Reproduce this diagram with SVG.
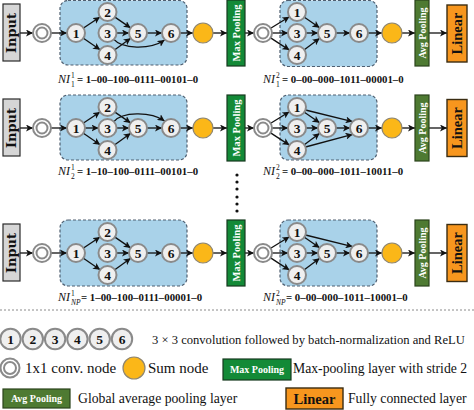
<svg xmlns="http://www.w3.org/2000/svg" width="474" height="410" viewBox="0 0 474 410">
<defs>
<marker id="ah" markerUnits="userSpaceOnUse" markerWidth="8" markerHeight="7" refX="7" refY="3.5" orient="auto">
<path d="M0,0 L7,3.5 L0,7 L1.8,3.5 z" fill="#111"/>
</marker>
</defs>
<style>
.blk{fill:#a9d2e9;stroke:#4f5f70;stroke-width:1.2;stroke-dasharray:3 2}
.inp{fill:#d6d6d6;stroke:#2a2a2a;stroke-width:1.2}
.mp{fill:#138a37;stroke:#173a1f;stroke-width:1.2}
.ap{fill:#4e7a32;stroke:#2b431c;stroke-width:1.2}
.ln{fill:#f7961e;stroke:#3a2c12;stroke-width:1.4}
.nd{fill:#efefef;stroke:#8a8a8a;stroke-width:2}
.cv{fill:#fff;stroke:#8a8a8a;stroke-width:2}
.sm{fill:#fbb718;stroke:#8f8670;stroke-width:1.2}
.num{font-family:"Liberation Serif",serif;font-weight:bold;font-size:13.5px;text-anchor:middle;fill:#111}
.tin{font-family:"DejaVu Serif",serif;font-weight:bold;font-size:13px;text-anchor:middle;fill:#111}
.tmp{font-family:"Liberation Serif",serif;font-weight:bold;font-size:10.5px;text-anchor:middle;fill:#fff}
.tap{font-family:"Liberation Serif",serif;font-weight:bold;font-size:10px;text-anchor:middle;fill:#fff}
.tln{font-family:"Liberation Serif",serif;font-weight:bold;font-size:14.5px;text-anchor:middle;fill:#111}
.ni{font-family:"Liberation Serif",serif;font-style:italic;font-size:12px;fill:#111}
.sx{font-family:"Liberation Serif",serif;font-size:7.5px;fill:#111}
.sxi{font-family:"Liberation Serif",serif;font-style:italic;font-size:7.5px;fill:#111}
.code{font-family:"Liberation Serif",serif;font-weight:bold;font-size:10.8px;fill:#111}
.lg{font-family:"Liberation Serif",serif;fill:#111}
.e{fill:none;stroke:#111;stroke-width:1.3;marker-end:url(#ah)}
</style>

<!-- blocks (cells) -->
<g id="cell-r1-left"><rect class="blk" x="60" y="0.5" width="127" height="64.5" rx="8"/></g>
<g id="cell-r1-right"><rect class="blk" x="280" y="0.5" width="97" height="66" rx="8"/></g>
<g id="cell-r2-left"><rect class="blk" x="60" y="95" width="127" height="65" rx="8"/></g>
<g id="cell-r2-right"><rect class="blk" x="280" y="95" width="97" height="65" rx="8"/></g>
<g id="cell-r3-left"><rect class="blk" x="60" y="220" width="127" height="66" rx="8"/></g>
<g id="cell-r3-right"><rect class="blk" x="280" y="220" width="97" height="66" rx="8"/></g>

<g id="connectors">
<!-- row 1 -->
<path class="e" d="M20,33 L33,33"/>
<path class="e" d="M51,33 L67,33"/>
<path class="e" d="M83.5,28 L100,17"/>
<path class="e" d="M83.4,38.2 L100.1,49.8"/>
<path class="e" d="M114.9,17.1 L130.6,27.9"/>
<path class="e" d="M116.5,33 L129,33"/>
<path class="e" d="M114.8,49.7 L130.7,38.3"/>
<path class="e" d="M147,33 L162,33"/>
<path class="e" d="M113.9,39.4 C122,49 150,50 164.6,40"/>
<path class="e" d="M180,33 L193,33"/>
<path class="e" d="M213,33 L227,33"/>
<path class="e" d="M245,33 L254,33"/>
<path class="e" d="M270.7,28.3 L289.4,16.7"/>
<path class="e" d="M272,33 L288,33"/>
<path class="e" d="M270.6,37.9 L289.4,50.1"/>
<path class="e" d="M304.4,17.2 L319.6,27.8"/>
<path class="e" d="M306,33 L318,33"/>
<path class="e" d="M304.3,49.7 L319.7,38.3"/>
<path class="e" d="M336,33 L350,33"/>
<path class="e" d="M368,33 L382,33"/>
<path class="e" d="M402,33 L415,33"/>
<path class="e" d="M429,33 L447,33"/>
<!-- row 2 -->
<path class="e" d="M20,128 L33,128"/>
<path class="e" d="M51,128 L67,128"/>
<path class="e" d="M83.5,123 L100,112"/>
<path class="e" d="M85,128 L98.5,128"/>
<path class="e" d="M83.4,133.2 L100.1,144.8"/>
<path class="e" d="M114.9,112.1 L130.6,122.9"/>
<path class="e" d="M116.5,128 L129,128"/>
<path class="e" d="M114.8,144.7 L130.7,133.3"/>
<path class="e" d="M147,128 L162,128"/>
<path class="e" d="M113.9,121.6 C122,112 150,111 164.6,121"/>
<path class="e" d="M180,128 L193,128"/>
<path class="e" d="M213,128 L227,128"/>
<path class="e" d="M245,128 L254,128"/>
<path class="e" d="M270.7,123.3 L289.4,111.7"/>
<path class="e" d="M272,128 L288,128"/>
<path class="e" d="M270.6,132.9 L289.4,145.1"/>
<path class="e" d="M304.4,112.2 L319.6,122.8"/>
<path class="e" d="M306,128 L318,128"/>
<path class="e" d="M304.3,144.7 L319.7,133.3"/>
<path class="e" d="M305.5,110 L352.6,121.6"/>
<path class="e" d="M305.5,147 L352.6,134.4"/>
<path class="e" d="M336,128 L350,128"/>
<path class="e" d="M368,128 L382,128"/>
<path class="e" d="M402,128 L415,128"/>
<path class="e" d="M429,128 L447,128"/>
<!-- row 3 -->
<path class="e" d="M20,253 L33,253"/>
<path class="e" d="M51,253 L67,253"/>
<path class="e" d="M83.5,248 L100,237"/>
<path class="e" d="M83.4,258.2 L100.1,269.8"/>
<path class="e" d="M114.9,237.1 L130.6,247.9"/>
<path class="e" d="M116.5,253 L129,253"/>
<path class="e" d="M114.8,269.7 L130.7,258.3"/>
<path class="e" d="M147,253 L162,253"/>
<path class="e" d="M180,253 L193,253"/>
<path class="e" d="M213,253 L227,253"/>
<path class="e" d="M245,253 L254,253"/>
<path class="e" d="M270.7,248.3 L289.4,236.7"/>
<path class="e" d="M272,253 L288,253"/>
<path class="e" d="M270.6,257.9 L289.4,270.1"/>
<path class="e" d="M304.4,237.2 L319.6,247.8"/>
<path class="e" d="M306,253 L318,253"/>
<path class="e" d="M304.3,269.7 L319.7,258.3"/>
<path class="e" d="M305.5,235 L352.6,246.6"/>
<path class="e" d="M336,253 L350,253"/>
<path class="e" d="M368,253 L382,253"/>
<path class="e" d="M402,253 L415,253"/>
<path class="e" d="M429,253 L447,253"/>
</g>

<!-- ROW 1 nodes -->
<g id="r1-input"><rect class="inp" x="3" y="4" width="17" height="57"/><text class="tin" transform="translate(11.5,33) rotate(-90)" y="4.5">Input</text></g>
<g id="r1-c1x1a"><circle class="cv" cx="42" cy="33" r="9"/><circle class="cv" cx="42" cy="33" r="5.5"/></g>
<g id="r1-a1"><circle class="nd" cx="76" cy="33" r="9"/><text class="num" x="76" y="37.6">1</text></g>
<g id="r1-a2"><circle class="nd" cx="107.5" cy="12" r="9"/><text class="num" x="107.5" y="16.6">2</text></g>
<g id="r1-a3"><circle class="nd" cx="107.5" cy="33" r="9"/><text class="num" x="107.5" y="37.6">3</text></g>
<g id="r1-a4"><circle class="nd" cx="107.5" cy="55" r="9"/><text class="num" x="107.5" y="59.6">4</text></g>
<g id="r1-a5"><circle class="nd" cx="138" cy="33" r="9"/><text class="num" x="138" y="37.6">5</text></g>
<g id="r1-a6"><circle class="nd" cx="171" cy="33" r="9"/><text class="num" x="171" y="37.6">6</text></g>
<g id="r1-suma"><circle class="sm" cx="203" cy="33" r="10"/></g>
<g id="r1-maxpool"><rect class="mp" x="227" y="0" width="18" height="66"/><text class="tmp" transform="translate(236,33) rotate(-90)" y="3.6">Max Pooling</text></g>
<g id="r1-c1x1b"><circle class="cv" cx="263" cy="33" r="9"/><circle class="cv" cx="263" cy="33" r="5.5"/></g>
<g id="r1-b1"><circle class="nd" cx="297" cy="12" r="9"/><text class="num" x="297" y="16.6">1</text></g>
<g id="r1-b3"><circle class="nd" cx="297" cy="33" r="9"/><text class="num" x="297" y="37.6">3</text></g>
<g id="r1-b4"><circle class="nd" cx="297" cy="55" r="9"/><text class="num" x="297" y="59.6">4</text></g>
<g id="r1-b5"><circle class="nd" cx="327" cy="33" r="9"/><text class="num" x="327" y="37.6">5</text></g>
<g id="r1-b6"><circle class="nd" cx="359" cy="33" r="9"/><text class="num" x="359" y="37.6">6</text></g>
<g id="r1-sumb"><circle class="sm" cx="392" cy="33" r="10"/></g>
<g id="r1-avgpool"><rect class="ap" x="415" y="0" width="14" height="66"/><text class="tap" transform="translate(422,33) rotate(-90)" y="3.5">Avg Pooling</text></g>
<g id="r1-linear"><rect class="ln" x="447" y="5" width="20" height="57"/><text class="tln" transform="translate(457,33.5) rotate(-90)" y="5">Linear</text></g>
<g id="r1-label-left"><text class="ni" x="58" y="83">NI</text><text class="sx" x="71" y="78">1</text><text class="sx" x="71" y="86.5">1</text><text class="code" x="77" y="83">= 1–00–100–0111–00101–0</text></g>
<g id="r1-label-right"><text class="ni" x="263" y="83">NI</text><text class="sx" x="276" y="78">2</text><text class="sx" x="276" y="86.5">1</text><text class="code" x="282" y="83">= 0–00–000–1011–00001–0</text></g>

<!-- ROW 2 nodes -->
<g id="r2-input"><rect class="inp" x="3" y="99" width="17" height="57"/><text class="tin" transform="translate(11.5,128) rotate(-90)" y="4.5">Input</text></g>
<g id="r2-c1x1a"><circle class="cv" cx="42" cy="128" r="9"/><circle class="cv" cx="42" cy="128" r="5.5"/></g>
<g id="r2-a1"><circle class="nd" cx="76" cy="128" r="9"/><text class="num" x="76" y="132.6">1</text></g>
<g id="r2-a2"><circle class="nd" cx="107.5" cy="107" r="9"/><text class="num" x="107.5" y="111.6">2</text></g>
<g id="r2-a3"><circle class="nd" cx="107.5" cy="128" r="9"/><text class="num" x="107.5" y="132.6">3</text></g>
<g id="r2-a4"><circle class="nd" cx="107.5" cy="150" r="9"/><text class="num" x="107.5" y="154.6">4</text></g>
<g id="r2-a5"><circle class="nd" cx="138" cy="128" r="9"/><text class="num" x="138" y="132.6">5</text></g>
<g id="r2-a6"><circle class="nd" cx="171" cy="128" r="9"/><text class="num" x="171" y="132.6">6</text></g>
<g id="r2-suma"><circle class="sm" cx="203" cy="128" r="10"/></g>
<g id="r2-maxpool"><rect class="mp" x="227" y="95" width="18" height="66"/><text class="tmp" transform="translate(236,128) rotate(-90)" y="3.6">Max Pooling</text></g>
<g id="r2-c1x1b"><circle class="cv" cx="263" cy="128" r="9"/><circle class="cv" cx="263" cy="128" r="5.5"/></g>
<g id="r2-b1"><circle class="nd" cx="297" cy="107" r="9"/><text class="num" x="297" y="111.6">1</text></g>
<g id="r2-b3"><circle class="nd" cx="297" cy="128" r="9"/><text class="num" x="297" y="132.6">3</text></g>
<g id="r2-b4"><circle class="nd" cx="297" cy="150" r="9"/><text class="num" x="297" y="154.6">4</text></g>
<g id="r2-b5"><circle class="nd" cx="327" cy="128" r="9"/><text class="num" x="327" y="132.6">5</text></g>
<g id="r2-b6"><circle class="nd" cx="359" cy="128" r="9"/><text class="num" x="359" y="132.6">6</text></g>
<g id="r2-sumb"><circle class="sm" cx="392" cy="128" r="10"/></g>
<g id="r2-avgpool"><rect class="ap" x="415" y="95" width="14" height="66"/><text class="tap" transform="translate(422,128) rotate(-90)" y="3.5">Avg Pooling</text></g>
<g id="r2-linear"><rect class="ln" x="447" y="99.5" width="20" height="57"/><text class="tln" transform="translate(457,128) rotate(-90)" y="5">Linear</text></g>
<g id="r2-label-left"><text class="ni" x="58" y="175">NI</text><text class="sx" x="71" y="170">1</text><text class="sx" x="71" y="178.5">2</text><text class="code" x="77" y="175">= 1–10–100–0111–00101–0</text></g>
<g id="r2-label-right"><text class="ni" x="263" y="175">NI</text><text class="sx" x="276" y="170">2</text><text class="sx" x="276" y="178.5">2</text><text class="code" x="282" y="175">= 0–00–000–1011–10011–0</text></g>

<!-- ellipsis dots -->
<g id="dots" fill="#111">
<circle cx="237" cy="175" r="1.6"/><circle cx="237" cy="182" r="1.6"/><circle cx="237" cy="189" r="1.6"/>
<circle cx="237" cy="197" r="1.6"/><circle cx="237" cy="204" r="1.6"/><circle cx="237" cy="211" r="1.6"/>
</g>

<!-- ROW 3 nodes -->
<g id="r3-input"><rect class="inp" x="3" y="224" width="17" height="57"/><text class="tin" transform="translate(11.5,253) rotate(-90)" y="4.5">Input</text></g>
<g id="r3-c1x1a"><circle class="cv" cx="42" cy="253" r="9"/><circle class="cv" cx="42" cy="253" r="5.5"/></g>
<g id="r3-a1"><circle class="nd" cx="76" cy="253" r="9"/><text class="num" x="76" y="257.6">1</text></g>
<g id="r3-a2"><circle class="nd" cx="107.5" cy="232" r="9"/><text class="num" x="107.5" y="236.6">2</text></g>
<g id="r3-a3"><circle class="nd" cx="107.5" cy="253" r="9"/><text class="num" x="107.5" y="257.6">3</text></g>
<g id="r3-a4"><circle class="nd" cx="107.5" cy="275" r="9"/><text class="num" x="107.5" y="279.6">4</text></g>
<g id="r3-a5"><circle class="nd" cx="138" cy="253" r="9"/><text class="num" x="138" y="257.6">5</text></g>
<g id="r3-a6"><circle class="nd" cx="171" cy="253" r="9"/><text class="num" x="171" y="257.6">6</text></g>
<g id="r3-suma"><circle class="sm" cx="203" cy="253" r="10"/></g>
<g id="r3-maxpool"><rect class="mp" x="227" y="220" width="18" height="66"/><text class="tmp" transform="translate(236,253) rotate(-90)" y="3.6">Max Pooling</text></g>
<g id="r3-c1x1b"><circle class="cv" cx="263" cy="253" r="9"/><circle class="cv" cx="263" cy="253" r="5.5"/></g>
<g id="r3-b1"><circle class="nd" cx="297" cy="232" r="9"/><text class="num" x="297" y="236.6">1</text></g>
<g id="r3-b3"><circle class="nd" cx="297" cy="253" r="9"/><text class="num" x="297" y="257.6">3</text></g>
<g id="r3-b4"><circle class="nd" cx="297" cy="275" r="9"/><text class="num" x="297" y="279.6">4</text></g>
<g id="r3-b5"><circle class="nd" cx="327" cy="253" r="9"/><text class="num" x="327" y="257.6">5</text></g>
<g id="r3-b6"><circle class="nd" cx="359" cy="253" r="9"/><text class="num" x="359" y="257.6">6</text></g>
<g id="r3-sumb"><circle class="sm" cx="392" cy="253" r="10"/></g>
<g id="r3-avgpool"><rect class="ap" x="415" y="220" width="14" height="66"/><text class="tap" transform="translate(422,253) rotate(-90)" y="3.5">Avg Pooling</text></g>
<g id="r3-linear"><rect class="ln" x="447" y="224.5" width="20" height="57"/><text class="tln" transform="translate(457,253) rotate(-90)" y="5">Linear</text></g>
<g id="r3-label-left"><text class="ni" x="58" y="301">NI</text><text class="sx" x="71" y="296">1</text><text class="sxi" x="71" y="304.5">NP</text><text class="code" x="81" y="301">= 1–00–100–0111–00001–0</text></g>
<g id="r3-label-right"><text class="ni" x="263" y="301">NI</text><text class="sx" x="276" y="296">2</text><text class="sxi" x="276" y="304.5">NP</text><text class="code" x="286" y="301">= 0–00–000–1011–10001–0</text></g>

<!-- separator -->
<line x1="0" y1="310" x2="474" y2="310" stroke="#8a8a8a" stroke-width="1" stroke-dasharray="2 2"/>

<!-- legend -->
<g id="legend-conv">
<circle class="nd" cx="10.5" cy="339" r="10.2"/><text class="num" x="10.5" y="343.7">1</text>
<circle class="nd" cx="32.8" cy="339" r="10.2"/><text class="num" x="32.8" y="343.7">2</text>
<circle class="nd" cx="55.1" cy="339" r="10.2"/><text class="num" x="55.1" y="343.7">3</text>
<circle class="nd" cx="77.4" cy="339" r="10.2"/><text class="num" x="77.4" y="343.7">4</text>
<circle class="nd" cx="99.7" cy="339" r="10.2"/><text class="num" x="99.7" y="343.7">5</text>
<circle class="nd" cx="122" cy="339" r="10.2"/><text class="num" x="122" y="343.7">6</text>
<text class="lg" x="152" y="343.5" font-size="12.6">3 × 3 convolution followed by batch-normalization and ReLU</text>
</g>
<g id="legend-1x1"><circle class="cv" cx="10" cy="368" r="9.5"/><circle class="cv" cx="10" cy="368" r="6"/><text class="lg" x="25" y="373" font-size="15">1x1 conv. node</text></g>
<g id="legend-sum"><circle class="sm" cx="134" cy="368" r="11"/><text class="lg" x="148" y="373" font-size="15">Sum node</text></g>
<g id="legend-maxpool"><rect class="mp" x="223" y="359" width="68" height="21"/><text class="tap" x="257" y="373">Max Pooling</text><text class="lg" x="293" y="373" font-size="13.7">Max-pooling layer with stride 2</text></g>
<g id="legend-avgpool"><rect class="ap" x="3" y="389" width="67" height="19"/><text class="tap" x="36.5" y="402">Avg Pooling</text><text class="lg" x="78" y="403" font-size="13.7">Global average pooling layer</text></g>
<g id="legend-linear"><rect class="ln" x="286" y="388" width="57" height="21"/><text class="tln" x="314.5" y="403.5">Linear</text><text class="lg" x="348" y="403" font-size="13.7">Fully connected layer</text></g>
</svg>
